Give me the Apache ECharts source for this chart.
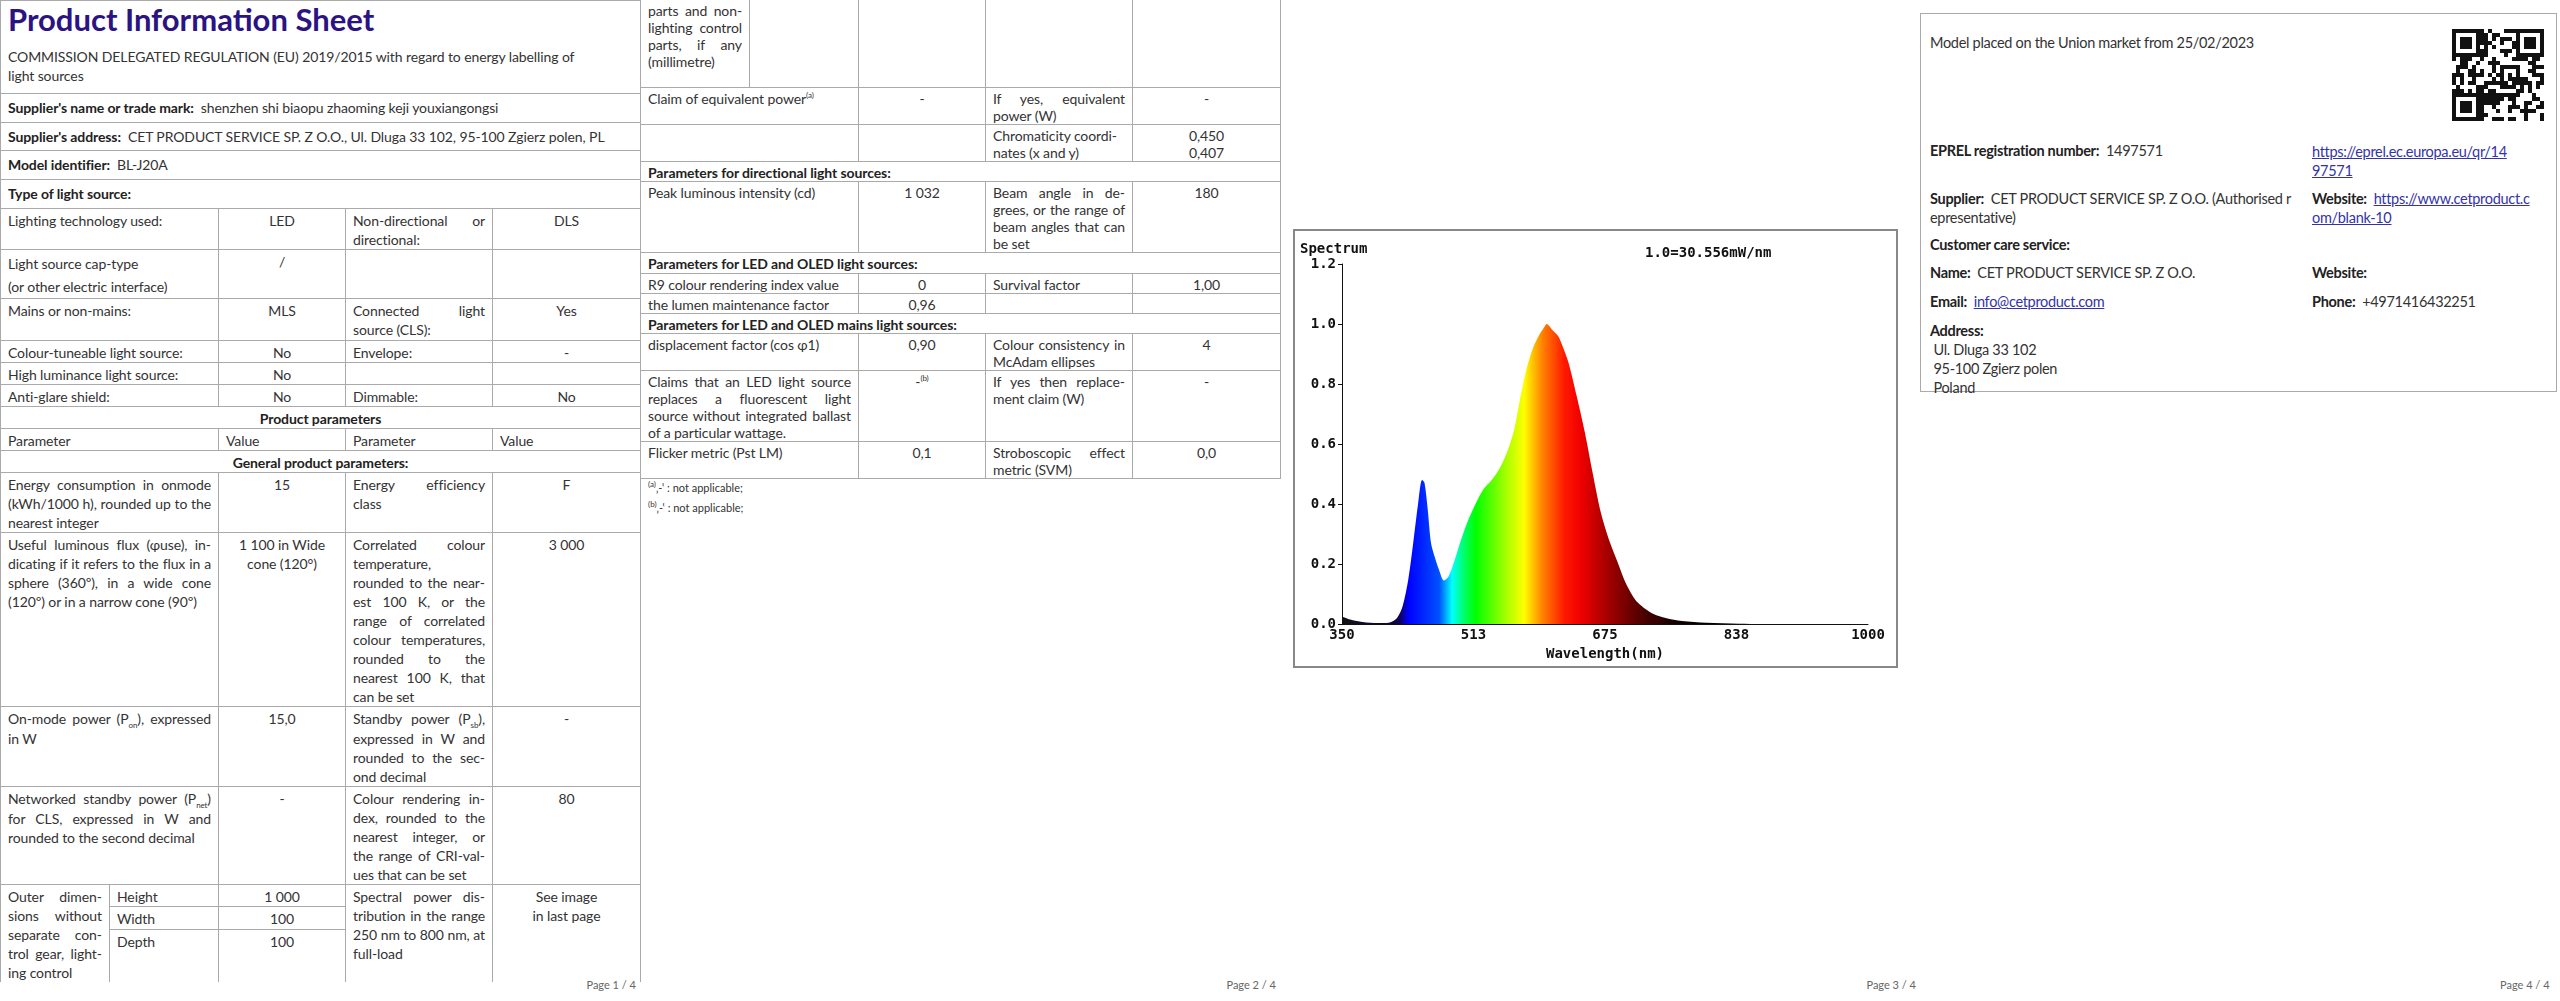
<!DOCTYPE html>
<html lang="en">
<head>
<meta charset="utf-8">
<script src="https://cdn.jsdelivr.net/npm/echarts@6/dist/echarts.min.js"></script>
<style>
  body { margin: 0; width: 2560px; height: 1001px; background: #fff; position: relative; overflow: hidden;
         font-family: Lato, "Open Sans", sans-serif; color: #333; }
  .page { position: absolute; top: 0; width: 640px; height: 1001px; }
  .pnum { position: absolute; right: 4px; top: 978px; font-size: 11px; color: #666; }
  table { border-collapse: collapse; table-layout: fixed; width: 640px; }
  td { border: 1px solid #aaa; vertical-align: top; padding: 2px 7px 0 7px; overflow: hidden; }
  .p1 td { font-size: 14px; line-height: 19px; letter-spacing: -0.1px; }
  .p2 td { font-size: 14px; line-height: 17px; letter-spacing: -0.1px; }
  .j { text-align: justify; }
  .c { text-align: center; }
  .b { font-weight: bold; color: #222; }
  .title { font-size: 31px; font-weight: bold; color: #2b1384; line-height: 36px; letter-spacing: 0; }
  sub, sup { font-size: 8px; line-height: 8px; }
  .p4 { position: absolute; left: 1920px; top: 13px; width: 637px; height: 379px; border: 1px solid #aaa; box-sizing: border-box; font-size: 14.5px; letter-spacing: -0.3px; }
  .p4 div { position: absolute; white-space: nowrap; }
  a { color: #3333aa; text-decoration: underline; }
</style>
</head>
<body>
<div class="page p1" style="left:0">
<table>
  <colgroup><col style="width:109px"><col style="width:109px"><col style="width:127px"><col style="width:147px"><col style="width:148px"></colgroup>
  <tr style="height:93px"><td colspan="5" style="padding-top:0"><div class="title">Product Information Sheet</div>
    <div style="margin-top:10px;padding-right:40px">COMMISSION DELEGATED REGULATION (EU) 2019/2015 with regard to energy labelling of light sources</div></td></tr>
  <tr style="height:29px"><td colspan="5" style="padding-top:4px"><span class="b">Supplier's name or trade mark:</span>&nbsp; shenzhen shi biaopu zhaoming keji youxiangongsi</td></tr>
  <tr style="height:28px"><td colspan="5" style="padding-top:4px"><span class="b">Supplier's address:</span>&nbsp; CET PRODUCT SERVICE SP. Z O.O., Ul. Dluga 33 102, 95-100 Zgierz polen, PL</td></tr>
  <tr style="height:29px"><td colspan="5" style="padding-top:4px"><span class="b">Model identifier:</span>&nbsp; BL-J20A</td></tr>
  <tr style="height:29px"><td colspan="5" style="padding-top:4px"><span class="b">Type of light source:</span></td></tr>
  <tr style="height:40px"><td colspan="2">Lighting technology used:</td><td class="c">LED</td><td class="j">Non-directional or directional:</td><td class="c">DLS</td></tr>
  <tr style="height:46px"><td colspan="2" style="line-height:23px">Light source cap-type<br>(or other electric interface)</td><td class="c">/</td><td></td><td></td></tr>
  <tr style="height:42px"><td colspan="2">Mains or non-mains:</td><td class="c">MLS</td><td class="j">Connected light source (CLS):</td><td class="c">Yes</td></tr>
  <tr style="height:22px"><td colspan="2">Colour-tuneable light source:</td><td class="c">No</td><td>Envelope:</td><td class="c">-</td></tr>
  <tr style="height:22px"><td colspan="2">High luminance light source:</td><td class="c">No</td><td></td><td></td></tr>
  <tr style="height:22px"><td colspan="2">Anti-glare shield:</td><td class="c">No</td><td>Dimmable:</td><td class="c">No</td></tr>
  <tr style="height:22px"><td colspan="5" class="c b">Product parameters</td></tr>
  <tr style="height:22px"><td colspan="2">Parameter</td><td>Value</td><td>Parameter</td><td>Value</td></tr>
  <tr style="height:22px"><td colspan="5" class="c b">General product parameters:</td></tr>
  <tr style="height:60px"><td colspan="2" class="j">Energy consumption in on&shy;mode (kWh/1000 h), rounded up to the nearest integer</td><td class="c">15</td><td class="j">Energy efficiency class</td><td class="c">F</td></tr>
  <tr style="height:172px"><td colspan="2" class="j">Useful luminous flux (ɸuse), in&shy;dicating if it refers to the flux in a sphere (360º), in a wide cone (120º) or in a narrow cone (90º)</td><td class="c">1 100 in Wide cone (120°)</td><td class="j">Correlated colour temperature, rounded to the near&shy;est 100 K, or the range of correlat&shy;ed colour temper&shy;atures, rounded to the nearest 100 K, that can be set</td><td class="c">3 000</td></tr>
  <tr style="height:79px"><td colspan="2" class="j">On-mode power (P<sub>on</sub>), ex&shy;pressed in W</td><td class="c">15,0</td><td class="j">Standby power (P<sub>sb</sub>), expressed in W and rounded to the sec&shy;ond decimal</td><td class="c">-</td></tr>
  <tr style="height:98px"><td colspan="2" class="j">Networked standby power (P<sub>net</sub>) for CLS, expressed in W and rounded to the second dec&shy;imal</td><td class="c">-</td><td class="j">Colour rendering in&shy;dex, rounded to the nearest integer, or the range of CRI-val&shy;ues that can be set</td><td class="c">80</td></tr>
  <tr style="height:22px"><td rowspan="3" class="j" style="border-bottom:none">Outer dimen&shy;sions without separate con&shy;trol gear, light&shy;ing control</td><td>Height</td><td class="c">1 000</td><td rowspan="3" class="j" style="border-bottom:none">Spectral power dis&shy;tribution in the range 250 nm to 800 nm, at full-load</td><td rowspan="3" class="c" style="border-bottom:none">See image<br>in last page</td></tr>
  <tr style="height:22px"><td>Width</td><td class="c">100</td></tr>
  <tr style="height:51px"><td style="border-bottom:none">Depth</td><td class="c" style="border-bottom:none">100</td></tr>
</table>
<div class="pnum">Page 1 / 4</div>
</div>

<div class="page p2" style="left:640px">
<table>
  <colgroup><col style="width:109px"><col style="width:109px"><col style="width:127px"><col style="width:147px"><col style="width:148px"></colgroup>
  <tr style="height:87px"><td class="j" style="border-top:none">parts and non-lighting con&shy;trol parts, if any (millime&shy;tre)</td><td style="border-top:none"></td><td style="border-top:none"></td><td style="border-top:none"></td><td style="border-top:none"></td></tr>
  <tr style="height:36px"><td colspan="2">Claim of equivalent power<sup>(a)</sup></td><td class="c">-</td><td class="j">If yes, equivalent power (W)</td><td class="c">-</td></tr>
  <tr style="height:37px"><td colspan="2"></td><td></td><td>Chromaticity coordi&shy;nates (x and y)</td><td class="c">0,450<br>0,407</td></tr>
  <tr style="height:20px"><td colspan="5" class="b">Parameters for directional light sources:</td></tr>
  <tr style="height:70px"><td colspan="2">Peak luminous intensity (cd)</td><td class="c">1 032</td><td class="j">Beam angle in de&shy;grees, or the range of beam angles that can be set</td><td class="c">180</td></tr>
  <tr style="height:21px"><td colspan="5" class="b">Parameters for LED and OLED light sources:</td></tr>
  <tr style="height:19px"><td colspan="2">R9 colour rendering index value</td><td class="c">0</td><td>Survival factor</td><td class="c">1,00</td></tr>
  <tr style="height:20px"><td colspan="2">the lumen maintenance factor</td><td class="c">0,96</td><td></td><td></td></tr>
  <tr style="height:20px"><td colspan="5" class="b">Parameters for LED and OLED mains light sources:</td></tr>
  <tr style="height:37px"><td colspan="2">displacement factor (cos ɸ1)</td><td class="c">0,90</td><td class="j">Colour consistency in McAdam ellipses</td><td class="c">4</td></tr>
  <tr style="height:70px"><td colspan="2" class="j">Claims that an LED light source replaces a fluorescent light source without integrated bal&shy;last of a particular wattage.</td><td class="c">-<sup>(b)</sup></td><td class="j">If yes then replace&shy;ment claim (W)</td><td class="c">-</td></tr>
  <tr style="height:37px"><td colspan="2">Flicker metric (Pst LM)</td><td class="c">0,1</td><td class="j">Stroboscopic effect metric (SVM)</td><td class="c">0,0</td></tr>
</table>
<div style="position:absolute;left:8px;top:478px;font-size:11px;line-height:20px"><sup>(a)</sup>‚-‛ : not applicable;<br><sup>(b)</sup>‚-‛ : not applicable;</div>
<div class="pnum">Page 2 / 4</div>
</div>

<div class="page" style="left:1280px">
<div id="chart" style="position:absolute;left:13px;top:229px;width:605px;height:439px;border:2px solid #888;box-sizing:border-box"></div>
<div class="pnum">Page 3 / 4</div>
</div>

<div class="p4">
  <div style="left:9px;top:20px">Model placed on the Union market from 25/02/2023</div>
  <canvas id="qr" width="92" height="92" style="position:absolute;left:531px;top:15px"></canvas>
  <div style="left:9px;top:128px"><span class="b">EPREL registration number:</span>&nbsp; 1497571</div>
  <div style="left:391px;top:128px;line-height:19px"><a>https://eprel.ec.europa.eu/qr/14<br>97571</a></div>
  <div style="left:9px;top:175px;line-height:19px"><span class="b">Supplier:</span>&nbsp; CET PRODUCT SERVICE SP. Z O.O. (Authorised r<br>epresentative)</div>
  <div style="left:391px;top:175px;line-height:19px"><span class="b">Website:</span>&nbsp; <a>https://www.cetproduct.c</a><br><a>om/blank-10</a></div>
  <div style="left:9px;top:222px" class="b">Customer care service:</div>
  <div style="left:9px;top:250px"><span class="b">Name:</span>&nbsp; CET PRODUCT SERVICE SP. Z O.O.</div>
  <div style="left:391px;top:250px" class="b">Website:</div>
  <div style="left:9px;top:279px"><span class="b">Email:</span>&nbsp; <a>info@cetproduct.com</a></div>
  <div style="left:391px;top:279px"><span class="b">Phone:</span>&nbsp; +4971416432251</div>
  <div style="left:9px;top:307px;line-height:19px"><span class="b">Address:</span><br>&nbsp;Ul. Dluga 33 102<br>&nbsp;95-100 Zgierz polen<br>&nbsp;Poland</div>
</div>
<div class="pnum" style="left:2500px">Page 4 / 4</div>

<script>
// spectrum (relative power vs wavelength)
const wavelengths = [350, 360, 380, 400, 410, 418, 425, 432, 438, 444, 449, 452, 456, 460, 465, 470, 476, 482, 490, 497,
  505, 515, 525, 535, 545, 555, 563, 570, 578, 586, 593, 600, 603, 610, 617, 622, 630, 640, 650, 660, 670, 680, 690,
  700, 710, 716, 725, 735, 750, 770, 800, 840, 900, 1000];
const power = [0.025, 0.015, 0.005, 0.003, 0.006, 0.02, 0.06, 0.15, 0.27, 0.40, 0.48, 0.47, 0.38, 0.27, 0.22, 0.18, 0.145,
  0.16, 0.22, 0.28, 0.34, 0.40, 0.45, 0.48, 0.52, 0.58, 0.65, 0.75, 0.85, 0.92, 0.96, 0.99, 1.0, 0.98, 0.96, 0.93,
  0.87, 0.76, 0.64, 0.50, 0.37, 0.28, 0.21, 0.14, 0.09, 0.07, 0.05, 0.033, 0.02, 0.01, 0.004, 0.001, 0, 0];
const xTicks = [350, 513, 675, 838, 1000];

const mono = '"DejaVu Sans Mono", "Liberation Mono", monospace';
const stops = [[350, '#111'], [420, '#10004a'], [432, '#0000ff'], [470, '#0050ff'], [486, '#00ffff'], [500, '#00ff70'],
  [515, '#00ff00'], [555, '#b0ff00'], [575, '#ffff00'], [598, '#ff8000'], [625, '#ff1800'], [645, '#f00000'],
  [680, '#a00000'], [720, '#500000'], [760, '#150000'], [800, '#000000']]
  .map(s => ({ offset: (s[0] - 350) / 650, color: s[1] }));

const chart = echarts.init(document.getElementById('chart'));
chart.setOption({
  animation: false,
  grid: { left: 47, right: 28, top: 33, bottom: 42 },
  title: [
    { text: 'Spectrum', left: 0, top: 6, textStyle: { fontFamily: mono, fontSize: 14, fontWeight: 'bold', color: '#111' } },
    { text: '1.0=30.556mW/nm', left: 345, top: 10, textStyle: { fontFamily: mono, fontSize: 14, fontWeight: 'bold', color: '#111' } }
  ],
  xAxis: {
    type: 'value', min: 350, max: 1000, interval: 162.5,
    name: 'Wavelength(nm)', nameLocation: 'middle', nameGap: 22,
    nameTextStyle: { fontFamily: mono, fontSize: 14, fontWeight: 'bold', color: '#111' },
    axisLine: { lineStyle: { color: '#111' } }, axisTick: { show: false }, splitLine: { show: false },
    axisLabel: { fontFamily: mono, fontSize: 14, fontWeight: 'bold', color: '#111', margin: 4,
      formatter: v => String(xTicks.find(t => Math.abs(t - v) < 1) || Math.round(v)) }
  },
  yAxis: {
    type: 'value', min: 0, max: 1.2, interval: 0.2,
    axisLine: { show: true, lineStyle: { color: '#111' } }, axisTick: { show: true, length: 4, inside: false, lineStyle: { color: '#111' } },
    splitLine: { show: false },
    axisLabel: { fontFamily: mono, fontSize: 14, fontWeight: 'bold', color: '#111', margin: 6, formatter: v => v.toFixed(1) }
  },
  series: [{
    type: 'line', data: wavelengths.map((w, i) => [w, power[i]]), showSymbol: false, smooth: 0.3,
    lineStyle: { width: 0 },
    areaStyle: { opacity: 1, color: new echarts.graphic.LinearGradient(0, 0, 1, 0, stops) }
  }]
});

// QR-like pattern (decorative)
const ctx = document.getElementById('qr').getContext('2d');
const n = 23, s = 4;
let seed = 1497571;
function rnd() { seed = (seed * 1103515245 + 12345) % 2147483648; return seed / 2147483648; }
ctx.fillStyle = '#111';
for (let r = 0; r < n; r++) for (let c = 0; c < n; c++) if (rnd() < 0.5) ctx.fillRect(c * s, r * s, s, s);
[[0, 0], [n - 7, 0], [0, n - 7]].forEach(([c, r]) => {
  ctx.fillStyle = '#111'; ctx.fillRect(c * s, r * s, 7 * s, 7 * s);
  ctx.fillStyle = '#fff'; ctx.fillRect((c + 1) * s, (r + 1) * s, 5 * s, 5 * s);
  ctx.fillStyle = '#111'; ctx.fillRect((c + 2) * s, (r + 2) * s, 3 * s, 3 * s);
});
</script>
</body>
</html>
